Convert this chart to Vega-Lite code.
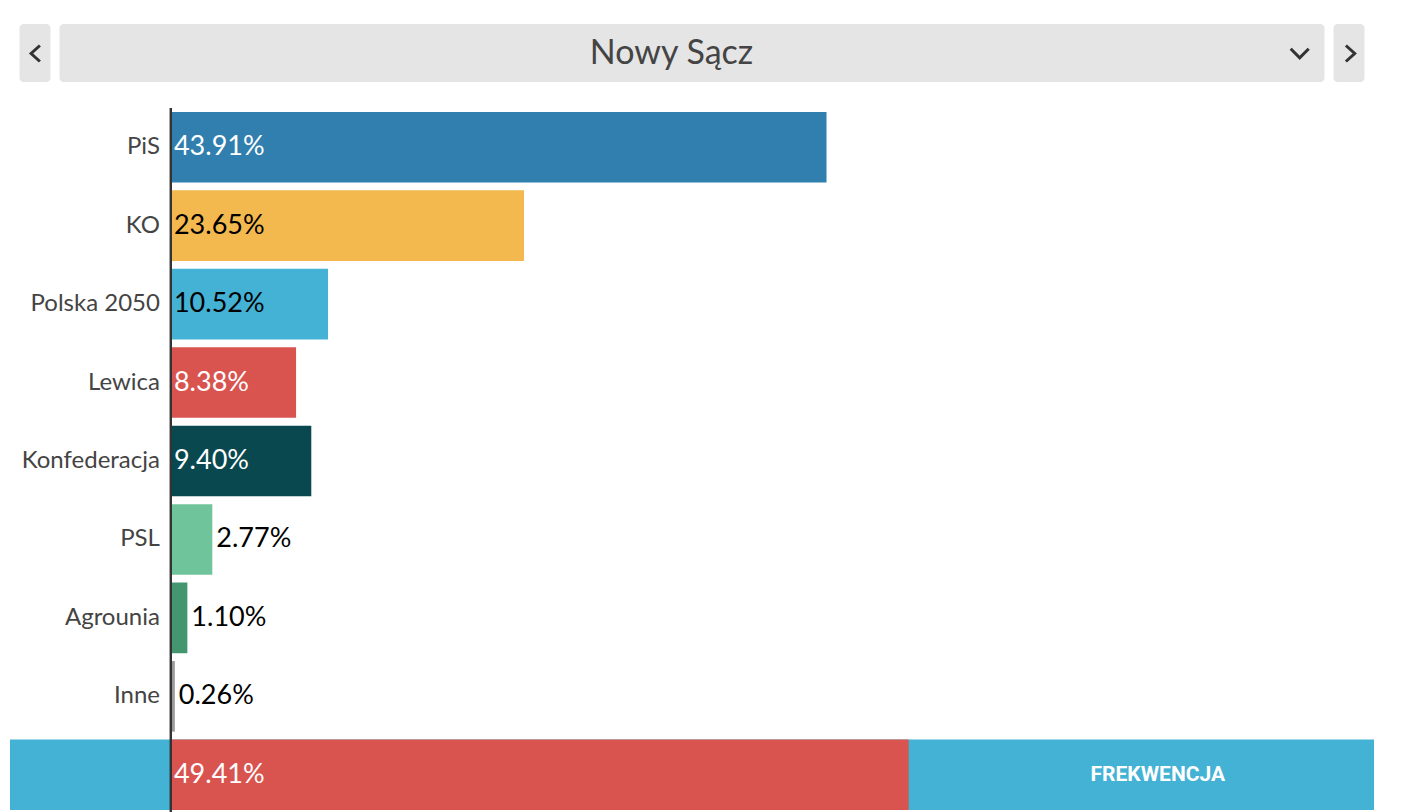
{
  "$schema": "https://vega.github.io/schema/vega-lite/v6.json",
  "padding": {"left": 10, "top": 24, "right": 0, "bottom": 0},
  "background": "white",
  "spacing": 25,
  "center": true,
  "config": {"view": {"stroke": null}, "font": "Lato"},
  "vconcat": [
    {
      "width": 1345,
      "height": 58,
      "data": {"values": [{"region": "Nowy Sącz"}]},
      "layer": [
        {"mark": {"type": "rect", "color": "#e5e5e5", "cornerRadius": 4},
         "encoding": {"x": {"datum": 0, "type": "quantitative", "scale": {"domain": [0, 1345], "nice": false, "zero": false}, "axis": null}, "x2": {"datum": 31}, "y": {"value": 0}, "y2": {"value": "height"}}},
        {"mark": {"type": "rect", "color": "#e5e5e5", "cornerRadius": 4},
         "encoding": {"x": {"datum": 40, "type": "quantitative"}, "x2": {"datum": 1305}, "y": {"value": 0}, "y2": {"value": "height"}}},
        {"mark": {"type": "rect", "color": "#e5e5e5", "cornerRadius": 4},
         "encoding": {"x": {"datum": 1314, "type": "quantitative"}, "x2": {"datum": 1345}, "y": {"value": 0}, "y2": {"value": "height"}}},
        {"mark": {"type": "text", "fontSize": 34, "color": "#444444", "align": "center", "baseline": "middle"},
         "encoding": {"x": {"datum": 652, "type": "quantitative"}, "y": {"value": 30}, "text": {"field": "region"}}},
        {"mark": {"type": "point", "shape": "M0.55,-1L-0.55,0L0.55,1", "filled": false, "strokeWidth": 3, "size": 256, "color": "#333333", "opacity": 1},
         "encoding": {"x": {"datum": 16, "type": "quantitative"}, "y": {"value": 29.5}}},
        {"mark": {"type": "point", "shape": "M-0.55,-1L0.55,0L-0.55,1", "filled": false, "strokeWidth": 3, "size": 256, "color": "#333333", "opacity": 1},
         "encoding": {"x": {"datum": 1330.8, "type": "quantitative"}, "y": {"value": 29.5}}},
        {"mark": {"type": "point", "shape": "M-1,-0.5L0,0.5L1,-0.5", "filled": false, "strokeWidth": 3, "size": 324, "color": "#333333", "opacity": 1},
         "encoding": {"x": {"datum": 1280.2, "type": "quantitative"}, "y": {"value": 29.3}}}
      ]
    },
    {
      "width": 1364,
      "height": 706,
      "data": {"values": [
        {"party": "PiS", "value": 0.4391},
        {"party": "KO", "value": 0.2365},
        {"party": "Polska 2050", "value": 0.1052},
        {"party": "Lewica", "value": 0.0838},
        {"party": "Konfederacja", "value": 0.0940},
        {"party": "PSL", "value": 0.0277},
        {"party": "Agrounia", "value": 0.0110},
        {"party": "Inne", "value": 0.0026},
        {"party": "Frekwencja", "value": 0.4941}
      ]},
      "encoding": {
        "y": {"field": "party", "type": "nominal", "sort": null, "axis": null,
              "scale": {"domain": ["PiS", "KO", "Polska 2050", "Lewica", "Konfederacja", "PSL", "Agrounia", "Inne", "Frekwencja"], "paddingInner": 0.1, "paddingOuter": 0.05}}
      },
      "layer": [
        {"transform": [{"filter": "datum.party === 'Frekwencja'"}],
         "mark": {"type": "rect", "color": "#44b2d4"},
         "encoding": {"x": {"value": 0}, "x2": {"value": "width"}}},
        {"mark": {"type": "bar"},
         "encoding": {
           "x": {"field": "value", "type": "quantitative", "axis": null, "scale": {"domain": [-0.1078, 0.8058], "nice": false, "zero": false}},
           "x2": {"datum": 0},
           "color": {"field": "party", "type": "nominal", "legend": null,
                     "scale": {"domain": ["PiS", "KO", "Polska 2050", "Lewica", "Konfederacja", "PSL", "Agrounia", "Inne", "Frekwencja"],
                               "range": ["#317fae", "#f3b94e", "#44b2d5", "#d9534f", "#09484f", "#6fc49b", "#43966f", "#9a9a9a", "#d9534f"]}}
         }},
        {"mark": {"type": "rule", "color": "#333333", "strokeWidth": 2},
         "encoding": {"x": {"datum": 0, "type": "quantitative"}, "y": null}},
        {"transform": [{"filter": "datum.party !== 'Frekwencja'"}],
         "mark": {"type": "text", "align": "right", "baseline": "middle", "dx": -11, "fontSize": 24, "color": "#444444"},
         "encoding": {"x": {"datum": 0, "type": "quantitative"}, "text": {"field": "party"}}},
        {"transform": [{"filter": "datum.value >= 0.05"}],
         "mark": {"type": "text", "align": "left", "baseline": "middle", "dx": 3, "fontSize": 27},
         "encoding": {"x": {"datum": 0, "type": "quantitative"}, "text": {"field": "value", "type": "quantitative", "format": ".2%"},
                      "color": {"condition": {"test": "datum.party === 'KO' || datum.party === 'Polska 2050'", "value": "#000000"}, "value": "#ffffff"}}},
        {"transform": [{"filter": "datum.value < 0.05"}],
         "mark": {"type": "text", "align": "left", "baseline": "middle", "dx": 4, "fontSize": 27, "color": "#000000"},
         "encoding": {"x": {"field": "value", "type": "quantitative"}, "text": {"field": "value", "type": "quantitative", "format": ".2%"}}},
        {"transform": [{"filter": "datum.party === 'Frekwencja'"}],
         "mark": {"type": "text", "align": "center", "baseline": "middle", "fontSize": 21, "fontWeight": "bold", "font": "Roboto", "color": "#ffffff"},
         "encoding": {"x": {"datum": 0.661, "type": "quantitative"}, "text": {"value": "FREKWENCJA"}}}
      ]
    }
  ]
}
